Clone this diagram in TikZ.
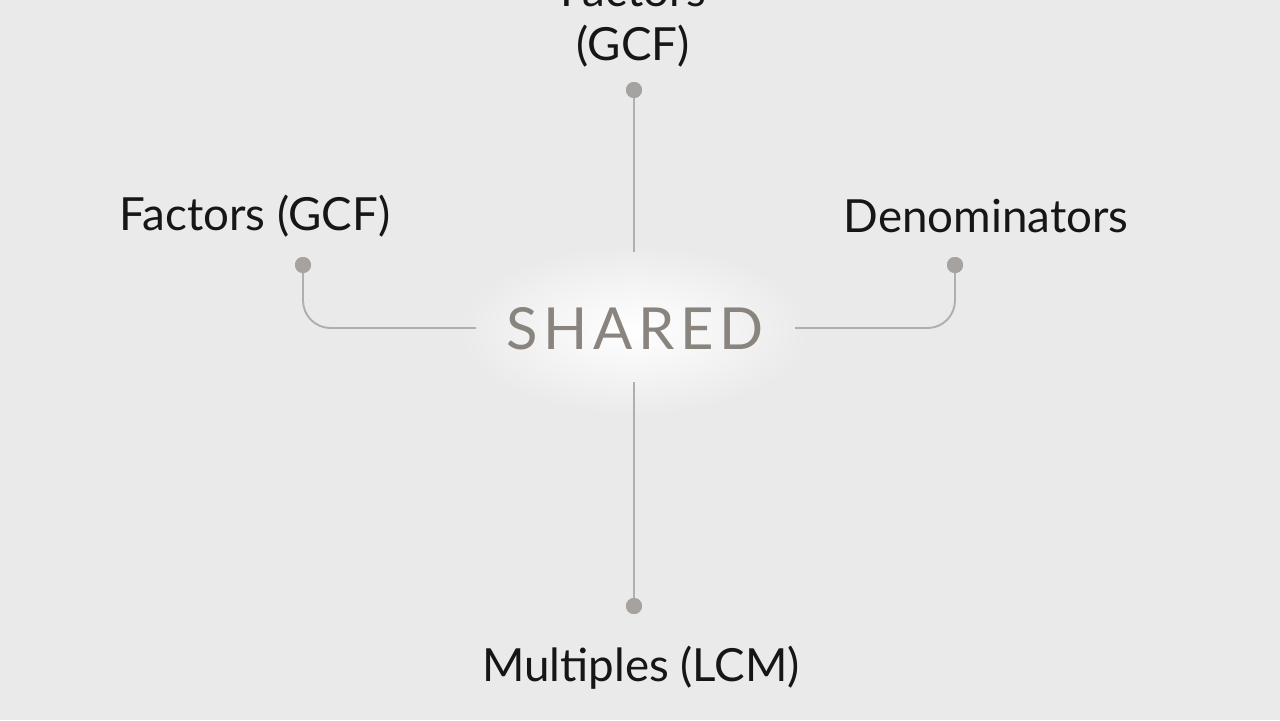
\documentclass[tikz,border=0pt]{standalone}
\usepackage{fontspec}
\setmainfont{Lato}
\newfontfamily\sharedfont[LetterSpace=10]{Lato}
\begin{document}
\begin{tikzpicture}[x=0.02cm,y=-0.02cm,
  conn/.style={draw=linecol, line width=1.1pt},
  dot/.style={circle, fill=dotcol, inner sep=0pt, minimum size=0.32cm},
  lbl/.style={text=txtcol, font=\fontsize{26}{31}\selectfont, inner sep=0pt, align=center},
]
\definecolor{bgcol}{RGB}{234,234,234}
\definecolor{linecol}{RGB}{178,174,170}
\definecolor{dotcol}{RGB}{165,162,159}
\definecolor{txtcol}{RGB}{22,22,22}
\definecolor{sharedcol}{RGB}{138,132,127}
\useasboundingbox (0,0) rectangle (1280,720);
\clip (0,0) rectangle (1280,720);
\fill[bgcol] (0,0) rectangle (1280,720);
\shade[inner color=white, outer color=bgcol] (634,330) ellipse (175 and 85);

\node[text=sharedcol, font=\sharedfont\fontsize{33}{40}\selectfont, inner sep=0pt] (sh) at (635,329) {SHARED};

\node[dot] (dT) at (634,90) {};
\node[dot] (dB) at (634,606) {};
\node[dot] (dL) at (303,265) {};
\node[dot] (dR) at (955,265) {};

\coordinate (cT) at (634,252);
\coordinate (cB) at (634,382);
\coordinate (cL) at (476,328);
\coordinate (cR) at (795,328);

\draw[conn] (dT) -- (cT);
\draw[conn] (cB) -- (dB);
\draw[conn, rounded corners=0.55cm] (dL.center) |- (cL);
\draw[conn, rounded corners=0.55cm] (dR.center) |- (cR);
\node[dot] at (dL) {};
\node[dot] at (dR) {};
\node[dot] at (dT) {};
\node[dot] at (dB) {};

\node[lbl] (tL) at (255,216) {Factors (GCF)};
\node[lbl] (tR) at (986,216) {Denominators};
\node[lbl] (tB) at (641,668) {Multiples (LCM)};
\node[lbl, anchor=south] (tT) at (633,68) {Factors\\(GCF)};
\end{tikzpicture}
\end{document}
